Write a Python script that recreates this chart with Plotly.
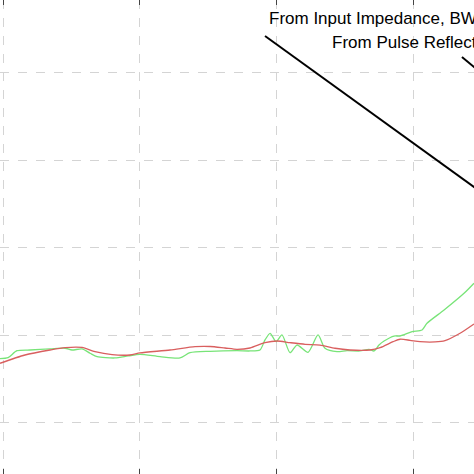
import plotly.graph_objects as go

# x in grid units (one unit per vertical grid line), y in grid units too
red_x = [-0.022, 0.161, 0.344, 0.454, 0.578, 0.673, 0.798, 0.929, 1.002, 1.222, 1.405, 1.515,
         1.624, 1.712, 1.807, 1.917, 2.005, 2.100, 2.210, 2.319, 2.429, 2.539, 2.685, 2.759,
         2.854, 2.905, 2.978, 3.051, 3.161, 3.234, 3.344, 3.446]
red_y = [0.682, 0.777, 0.834, 0.861, 0.863, 0.815, 0.781, 0.777, 0.800, 0.834, 0.872, 0.874,
         0.857, 0.842, 0.857, 0.918, 0.937, 0.918, 0.899, 0.891, 0.854, 0.834, 0.834, 0.861,
         0.929, 0.957, 0.945, 0.929, 0.926, 0.941, 1.025, 1.131]

green_x = [-0.022, 0.037, 0.102, 0.198, 0.344, 0.454, 0.505, 0.578, 0.637, 0.688, 0.819, 0.915,
           1.002, 1.149, 1.295, 1.368, 1.515, 1.712, 1.807, 1.880, 1.917, 1.954, 1.998, 2.041,
           2.100, 2.151, 2.232, 2.305, 2.356, 2.444, 2.517, 2.612, 2.678, 2.715, 2.751, 2.788,
           2.861, 2.905, 2.993, 3.066, 3.102, 3.227, 3.373, 3.446]
green_y = [0.735, 0.746, 0.826, 0.834, 0.846, 0.854, 0.834, 0.846, 0.797, 0.758, 0.743, 0.766,
           0.785, 0.758, 0.743, 0.803, 0.819, 0.826, 0.823, 0.834, 0.949, 1.025, 0.929, 1.006,
           0.803, 0.891, 0.808, 1.006, 0.854, 0.815, 0.826, 0.823, 0.842, 0.823, 0.891, 0.937,
           0.994, 0.994, 1.043, 1.063, 1.139, 1.291, 1.482, 1.597]

x_ticks = [0, 1, 2, 3]
y_ticks = [0, 1, 2, 3, 4]

# annotation pointer lines (x0, y0, x1, y1)
pointer_lines = [(1.917, 4.423, 3.6, 2.523),
                 (3.358, 4.183, 3.6, 3.869)]
labels = ["From Input Impedance, BW", "From Pulse Reflection"]
label_pos = [(1.932, 4.62), (2.393, 4.345)]

fig = go.Figure()
fig.add_trace(go.Scatter(x=green_x, y=green_y, mode='lines', line=dict(color='#78e478', width=1.3, shape='spline', smoothing=0.7), showlegend=False))
fig.add_trace(go.Scatter(x=red_x, y=red_y, mode='lines', line=dict(color='#d95f5f', width=1.3, shape='spline', smoothing=0.7), showlegend=False))

for (x0, y0, x1, y1) in pointer_lines:
    fig.add_shape(type='line', x0=x0, y0=y0, x1=x1, y1=y1, xref='x', yref='y', line=dict(color='black', width=2))

for txt, (lx, ly) in zip(labels, label_pos):
    fig.add_annotation(x=lx, y=ly, xref='x', yref='y', text=txt, showarrow=False,
                       xanchor='left', yanchor='middle',
                       font=dict(family='Liberation Sans, Arial', size=17, color='black'))

fig.update_layout(
    width=474, height=474,
    margin=dict(l=0, r=0, t=0, b=0),
    plot_bgcolor='white', paper_bgcolor='white',
    xaxis=dict(range=[-0.022, 3.446], tickvals=x_ticks, showticklabels=False,
               showgrid=True, gridcolor='#d4d4d4', griddash='dash', gridwidth=1,
               ticks='inside', ticklen=5, tickcolor='#444', mirror='ticks',
               showline=False, zeroline=False),
    yaxis=dict(range=[-0.583, 4.834], tickvals=y_ticks, showticklabels=False,
               showgrid=True, gridcolor='#d4d4d4', griddash='dash', gridwidth=1,
               ticks='', showline=False, zeroline=False),
)

fig.write_html("out.html", config={'displayModeBar': False},
               post_script="document.body.style.margin='0px';")
